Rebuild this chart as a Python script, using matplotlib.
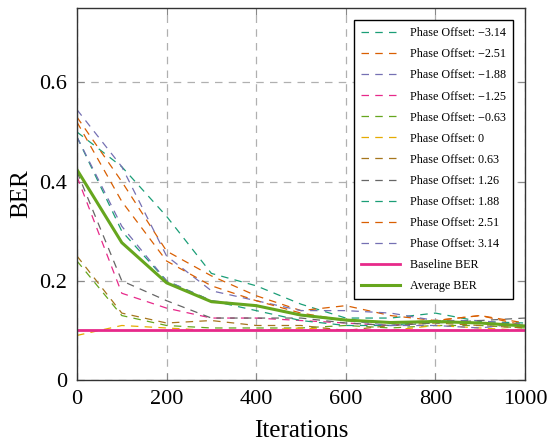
import numpy as np
import matplotlib.pyplot as plt

plt.rcParams['font.family'] = ['Liberation Serif', 'DejaVu Serif']

iterations = [0, 100, 200, 300, 400, 500, 600, 700, 800, 900, 1000]

offset_labels = ['\u22123.14', '\u22122.51', '\u22121.88', '\u22121.25', '\u22120.63',
                 '0', '0.63', '1.26', '1.88', '2.51', '3.14']
offset_colors = ['#1b9e77', '#d95f02', '#7570b3', '#e7298a', '#66a61e', '#e6ab02',
                 '#a6761d', '#666666', '#1b9e77', '#d95f02', '#7570b3']

ber_m314 = [0.50, 0.43, 0.33, 0.215, 0.19, 0.153, 0.125, 0.125, 0.135, 0.118, 0.115]
ber_m251 = [0.53, 0.40, 0.26, 0.21, 0.17, 0.14, 0.15, 0.13, 0.12, 0.13, 0.11]
ber_m188 = [0.545, 0.43, 0.25, 0.18, 0.16, 0.14, 0.14, 0.135, 0.12, 0.12, 0.11]
ber_m125 = [0.41, 0.175, 0.145, 0.125, 0.125, 0.12, 0.115, 0.11, 0.12, 0.115, 0.11]
ber_m063 = [0.24, 0.13, 0.11, 0.105, 0.105, 0.105, 0.11, 0.105, 0.11, 0.11, 0.105]
ber_0 = [0.09, 0.11, 0.105, 0.10, 0.10, 0.105, 0.10, 0.10, 0.11, 0.105, 0.10]
ber_p063 = [0.25, 0.135, 0.115, 0.12, 0.11, 0.11, 0.10, 0.11, 0.115, 0.11, 0.105]
ber_p126 = [0.42, 0.20, 0.16, 0.125, 0.125, 0.125, 0.115, 0.11, 0.115, 0.12, 0.125]
ber_p188 = [0.49, 0.30, 0.20, 0.16, 0.14, 0.12, 0.11, 0.11, 0.12, 0.115, 0.11]
ber_p251 = [0.52, 0.36, 0.24, 0.19, 0.16, 0.135, 0.12, 0.115, 0.12, 0.13, 0.115]
ber_p314 = [0.49, 0.31, 0.20, 0.16, 0.15, 0.13, 0.12, 0.11, 0.11, 0.105, 0.115]

baseline_ber = 0.1
average_ber = [0.424, 0.277, 0.196, 0.158, 0.15, 0.131, 0.121, 0.116, 0.118, 0.115, 0.109]

all_series = [ber_m314, ber_m251, ber_m188, ber_m125, ber_m063, ber_0,
              ber_p063, ber_p126, ber_p188, ber_p251, ber_p314]

fig = plt.figure(figsize=(5.5, 4.44), dpi=100)
ax = fig.add_axes([0.14, 0.144, 0.8145, 0.838])

for vals, lab, col in zip(all_series, offset_labels, offset_colors):
    ax.plot(iterations, vals, color=col, lw=0.9, dashes=(6, 5),
            label='Phase Offset: ' + lab)

ax.axhline(baseline_ber, color='#e7298a', lw=2.0, label='Baseline BER')
ax.plot(iterations, average_ber, color='#66a61e', lw=2.2, label='Average BER')

ax.set_xlim(0, 1000)
ax.set_ylim(0, 0.75)
ax.set_xticks([0, 200, 400, 600, 800, 1000])
ax.set_yticks([0, 0.2, 0.4, 0.6])
ax.set_yticklabels(['0', '0.2', '0.4', '0.6'])
ax.grid(True, color='#b0b0b0', ls=(0, (6, 5)), lw=0.9)
ax.tick_params(direction='in', top=True, right=True, labelsize=16,
               color='#888888', length=5, pad=7)
for s in ax.spines.values():
    s.set_linewidth(1.0)
    s.set_color('#333333')

ax.set_xlabel('Iterations', fontsize=18, labelpad=8)
ax.set_ylabel('BER', fontsize=18, labelpad=5)

leg = ax.legend(loc='upper right', fontsize=8.7, handlelength=3.2,
                borderaxespad=1.0, labelspacing=0.75, fancybox=False,
                framealpha=1, edgecolor='black', borderpad=0.6)
leg.get_frame().set_linewidth(1.0)

fig.savefig('out.png', dpi=100)
